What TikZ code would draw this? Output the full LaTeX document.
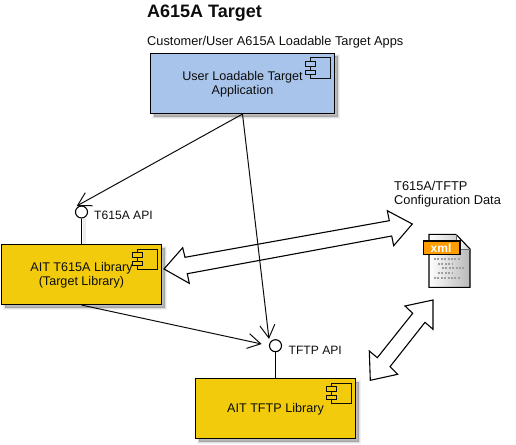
\documentclass[tikz,border=0pt]{standalone}
\usepackage{fontspec}
\setmainfont{Liberation Sans}
\usetikzlibrary{arrows.meta,shadows}
\definecolor{bluebox}{HTML}{A9C4EB}
\definecolor{yellowbox}{HTML}{F2CC0C}
\definecolor{inkc}{HTML}{0D0D0D}
\definecolor{tagorange}{HTML}{FF9C00}
\tikzset{
  softshadow/.style={
    general shadow={shadow xshift=3pt,shadow yshift=-3pt,fill=black,draw=black,line width=4pt,opacity=.05},
    general shadow={shadow xshift=3pt,shadow yshift=-3pt,fill=black,draw=black,line width=2pt,opacity=.08},
    general shadow={shadow xshift=3pt,shadow yshift=-3pt,fill=black,draw=none,opacity=.15}},
  compbox/.style={draw=black,line width=1.1pt,minimum height=60pt,align=center,
    font=\fontsize{12.6}{14}\selectfont,text=inkc,softshadow,inner sep=0pt},
  lbl/.style={font=\fontsize{12.8}{14}\selectfont,text=inkc,anchor=west,inner sep=0pt,align=left},
  apilbl/.style={lbl,font=\fontsize{12.1}{14}\selectfont},
  lolli/.style={circle,draw=black,fill=white,line width=1.1pt,minimum size=12pt,inner sep=0pt},
  stem/.style={line width=1.1pt,draw=black},
  stemshadow/.style={line width=3pt,draw=black,opacity=.07},
  openarrow/.style={line width=1pt,draw=inkc,-{Straight Barb[length=13pt,width=15pt,line width=1pt]}},
  blockarrow/.style={line width=1.1pt,draw=black,line join=miter},
  iconline/.style={line width=.9pt,draw=inkc},
  lug/.style={line width=.9pt,draw=inkc},
  pics/compicon/.style={code={
    \draw[iconline] (-25,5) rectangle (-5,25);
    \draw[lug,fill=#1] (-30,8.5) rectangle (-20,13);
    \draw[lug,fill=#1] (-30,17) rectangle (-20,21.5);
  }}
}
\newcommand{\nudge}{\rule{0pt}{11.5pt}}
\begin{document}
\begin{tikzpicture}[x=1pt,y=-1pt]
\useasboundingbox (0,0) rectangle (516,444);

\node[font=\bfseries\fontsize{18}{20}\selectfont,text=inkc,anchor=west,inner sep=0pt] (title) at (147,13) {A615A Target};
\node[lbl] (subtitle) at (147,42.5) {Customer/User A615A Loadable Target Apps};

\node[compbox,fill=bluebox,minimum width=184pt] (user) at (242.5,83.5) {\rule{0pt}{10.5pt}User Loadable Target\\Application};
\node[compbox,fill=yellowbox,minimum width=160pt] (lib1) at (81.5,274.5) {\nudge AIT T615A Library\\(Target Library)};
\node[compbox,fill=yellowbox,minimum width=160pt] (lib2) at (275.5,408.5) {\nudge AIT TFTP Library};

\path (user.north east) pic {compicon=bluebox};
\path (lib1.north east) pic {compicon=yellowbox};
\path (lib2.north east) pic {compicon=yellowbox};

\node[lolli] (api1) at (81.5,212) {};
\node[lolli] (api2) at (275.5,345.7) {};
\draw[stemshadow] ([xshift=3pt]api1.south) -- ([xshift=3pt]lib1.north -| api1);
\draw[stem] (api1) -- (api1 |- lib1.north);
\draw[stem] (api2) -- (api2 |- lib2.north);

\node[apilbl] (api1lbl) at (94,215) {T615A API};
\node[apilbl] (api2lbl) at (288.5,350) {TFTP API};
\node[lbl] (cfglbl) at (394,194) {T615A/TFTP\\Configuration Data};

% block arrows
\draw[blockarrow] (164,269) -- (182.7,247.7) -- (185,257.3) -- (389.3,220.7) -- (387.3,210.7)
  -- (412.3,224) -- (393.7,245.7) -- (391.7,236) -- (187.3,273.7) -- (189.3,283.3) -- cycle;
\draw[blockarrow] (433,300) -- (405,306) -- (412.7,313.3) -- (377.3,357.7) -- (369.3,351)
  -- (370.3,380.3) -- (397.7,374.3) -- (390,366.7) -- (425,322.3) -- (433,329.3) -- cycle;

% connectors
\coordinate (tip1) at (76.7,206);
\coordinate (tip2) at (269,339);
\coordinate (tip3) at (261.7,344);
\draw[openarrow] (user.south) -- (tip1);
\draw[openarrow] (user.south) -- (tip2);
\draw[openarrow] (lib1.south) -- (tip3);

% xml file icon
\shade[left color=white,right color=black!28] (429,234.3) -- (456,234.3) -- (470,249) -- (470,287.3) -- (429,287.3) -- cycle;
\shade[left color=white,right color=black!18] (456,234.3) -- (470,249) -- (456,249) -- cycle;
\draw[line width=1.1pt,draw=black,line join=miter] (429,234.3) -- (456,234.3) -- (470,249) -- (470,287.3) -- (429,287.3) -- cycle;
\draw[line width=.7pt,draw=black!60] (456,234.3) -- (456,249) -- (470,249);
\draw[line width=1.1pt,draw=black,fill=tagorange] (423.3,241) rectangle (460,254.3);
\node[font=\bfseries\fontsize{12}{12}\selectfont,text=white,inner sep=0pt] (xmltag) at (441,248) {xml};
\foreach \yy/\xa/\xb in {259/434/460,263.5/438/452,268/442/464,273/438/452,278/434/460}{
  \draw[line width=2pt,draw=black!38,dash pattern=on 2pt off 1.4pt] (\xa,\yy) -- (\xb,\yy);
}
\end{tikzpicture}
\end{document}
